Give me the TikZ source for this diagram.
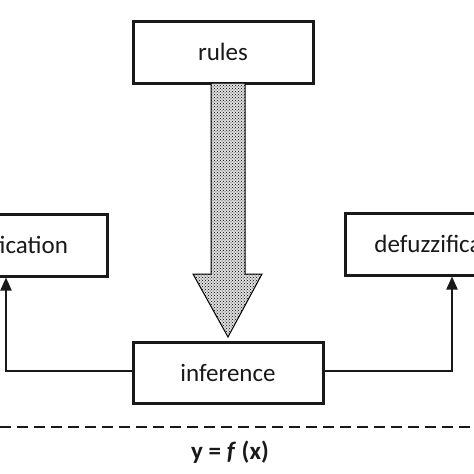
\documentclass[tikz,border=0pt]{standalone}
\usepackage{fontspec}
\setmainfont{Carlito}
\usetikzlibrary{arrows.meta,patterns,calc}
\begin{document}
\begin{tikzpicture}[x=1pt,y=-1pt,
  box/.style={draw=black!90,line width=3pt,fill=white,inner sep=0pt,
    font=\fontsize{25}{29}\selectfont,text=black!90},
  conn/.style={draw=black!90,line width=2pt,-{Triangle[length=13pt,width=11pt]}},
  bigarrow/.style={draw=black,line width=1pt,fill=gray!25,
    postaction={pattern=crosshatch dots,pattern color=black}},
  sep/.style={draw=black!90,line width=2pt,dash pattern=on 11pt off 6pt}]
\useasboundingbox (0,0) rectangle (474,474);
\clip (0,0) rectangle (474,474);
\fill[white] (0,0) rectangle (474,474);
\node[box,minimum width=180pt,minimum height=62pt] (rules) at (223,52) {rules};
\node[box,minimum width=190pt,minimum height=61pt] (inf) at (228,373) {inference};
\node[box,minimum width=200pt,minimum height=62pt] (fuzz) at (7,245) {fuzzification};
\node[box,minimum width=206pt,minimum height=62pt] (defuzz) at (448,244) {defuzzification};
% big shaded arrow
\coordinate (a0) at ($(rules.south)+(5,-1.5)$);
\coordinate (tip) at ($(inf.north)+(0,-4)$);
\path[bigarrow] ($(a0)+(-17,0)$) -- ($(a0)+(17,0)$) -- ($(a0)+(17,191)$) -- ($(a0)+(34,191)$)
  -- (tip) -- ($(a0)+(-35,191)$) -- ($(a0)+(-17,191)$) -- cycle;
% connectors
\draw[conn] ([yshift=2pt]inf.west) -| ([xshift=-1pt]fuzz.south);
\draw[conn] ([yshift=2pt]inf.east) -| ([xshift=4pt]defuzz.south);
% separator
\coordinate (sl) at (0,427);
\coordinate (sr) at (474,427);
\draw[sep] (sl) -- (sr);
\node[font=\fontsize{25}{29}\selectfont\bfseries,text=black!90] (eq) at (230,452) {y = \textit{f} (x)};
\end{tikzpicture}
\end{document}
